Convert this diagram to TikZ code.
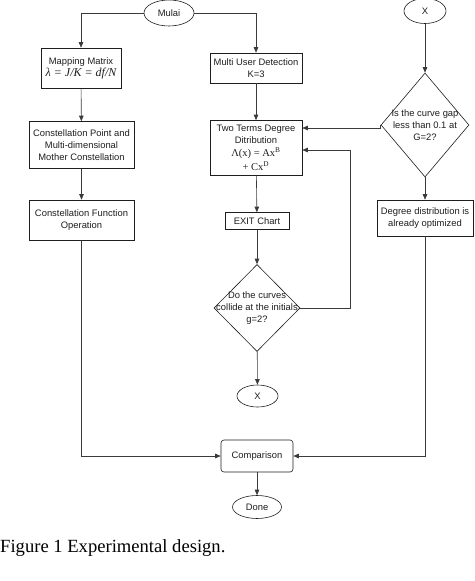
\documentclass[tikz,border=0pt]{standalone}
\usepackage{fontspec}
\setmainfont{Liberation Serif}
\setsansfont{Liberation Sans}
\usetikzlibrary{positioning,arrows.meta,shapes.geometric}
\definecolor{ink}{HTML}{1E1E1E}
\definecolor{wire}{HTML}{3A3A3A}

\begin{document}
\begin{tikzpicture}[
  x=1pt,y=-1pt,
  font=\sffamily\fontsize{9.4}{11.8}\selectfont,
  >={Triangle[length=5.5pt,width=4.5pt]},
  proc/.style={draw=ink,text=ink,line width=0.6pt,align=center,inner sep=1pt},
  term/.style={draw=ink,text=ink,ellipse,line width=0.6pt,inner sep=0pt},
  decide/.style={draw=ink,diamond,line width=0.6pt,inner sep=0pt},
  dtext/.style={text=ink,align=center,inner sep=0pt},
  fl/.style={->,draw=wire,line width=0.6pt},
]
\useasboundingbox (0,0) rectangle (474,581);

%---------------------------------------------------------------- start ---
\node[term,minimum width=50pt,minimum height=26pt] (mulai) at (169,13) {Mulai};

%--------------------------------------------------------- left column ---
\node[proc,minimum width=80pt,minimum height=40pt] (map) at (81,68)
  {Mapping Matrix\\{\rmfamily\itshape\fontsize{12}{12}\selectfont λ = J/K = df/N}};
\node[proc,minimum width=105pt,minimum height=47pt] (cpoint) at (81.5,145)
  {Constellation Point and\\Multi-dimensional\\Mother Constellation};
\node[proc,minimum width=105pt,minimum height=40pt] (cfunc) at (81.5,220)
  {Constellation Function\\Operation};

%------------------------------------------------------- middle column ---
\node[proc,minimum width=92pt,minimum height=55pt] (terms) at (256,148)
  {Two Terms Degree\\Ditribution\\[1pt]
   {\rmfamily\fontsize{10.5}{11}\selectfont Λ(x) = Ax\textsuperscript{B}}\\[2pt]
   {\rmfamily\fontsize{10.5}{11}\selectfont + Cx\textsuperscript{D}}};
\node[proc,minimum width=92pt,minimum height=30pt] (mud) at (256,68)
  {Multi User Detection\\K=3};
\node[proc,minimum width=64pt,minimum height=17pt] (exit) at (257,221) {EXIT Chart};
\node[decide,minimum width=86pt,minimum height=87pt] (collide) at (257,308) {};
\node[dtext] (collidetxt) at (collide.center)
  {Do the curves\\collide at the initials\\g=2?};
\node[term,minimum width=41pt,minimum height=22pt] (xa) at (257.5,396) {X};
\coordinate (loop) at (350,150);

%-------------------------------------------------------- right column ---
\node[term,minimum width=42pt,minimum height=25pt] (xb) at (425,11) {X};
\node[decide,minimum width=88pt,minimum height=104pt] (gap) at (425,125) {};
\node[dtext] (gaptxt) at (gap.center)
  {Is the curve gap\\less than 0.1 at\\G=2?};
\node[proc,minimum width=96pt,minimum height=36pt] (opt) at (425,218)
  {Degree distribution is\\already optimized};

%-------------------------------------------------------------- finish ---
\node[proc,rounded corners=3pt,minimum width=72pt,minimum height=32pt] (cmp) at (257,456)
  {Comparison};
\node[term,minimum width=49pt,minimum height=23pt] (done) at (257,507) {Done};

\node[anchor=base west,inner sep=0pt,font=\rmfamily\fontsize{18.6}{20}\selectfont] (cap)
  at (0,552) {Figure 1 Experimental design.};

%---------------------------------------------------------- connectors ---
\draw[fl] (mulai.west) -| (map.north);
\draw[fl] (mulai.east) -| (mud.north);
\draw[fl] (map) -- (cpoint);
\draw[fl] (cpoint) -- (cfunc);
\draw[fl] (cfunc.south) |- (cmp.west);

\draw[fl] (mud) -- (terms);
\draw[fl] (terms) -- (exit);
\draw[fl] (exit) -- (collide);
\draw[fl] (collide) -- (xa);
\draw[fl] (collide.east) -| (loop) -- ([yshift=-2pt]terms.east);

\draw[fl] (xb) -- (gap);
\draw[fl] (gap.west) |- ([yshift=20pt]terms.east);
\draw[fl] (gap) -- (opt);
\draw[fl] (opt.south) |- (cmp.east);
\draw[fl] (cmp) -- (done);

\end{tikzpicture}
\end{document}
